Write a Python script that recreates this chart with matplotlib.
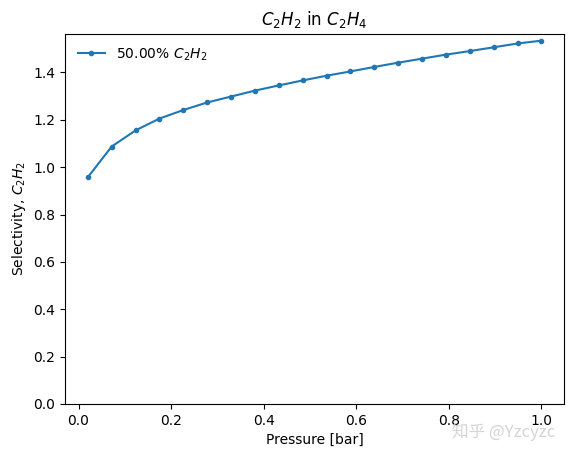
import numpy as np
import matplotlib
matplotlib.use('Agg')
import matplotlib.pyplot as plt

# pressure points [bar] and selectivity
pressure = [0.02, 0.0716, 0.1232, 0.1747, 0.2263, 0.2779, 0.3295, 0.3811,
            0.4326, 0.4842, 0.5358, 0.5874, 0.6389, 0.6905, 0.7421, 0.7937,
            0.8453, 0.8968, 0.9484, 1.0]
selectivity = [0.957, 1.087, 1.155, 1.205, 1.241, 1.273, 1.298, 1.323,
               1.345, 1.366, 1.386, 1.404, 1.423, 1.441, 1.458, 1.475,
               1.490, 1.506, 1.522, 1.534]
label = r'50.00% $C_2H_2$'

fig = plt.figure(figsize=(5.71, 4.57), dpi=100)
ax = fig.add_axes([0.114, 0.116, 0.874, 0.810])

ax.plot(pressure, selectivity, marker='.', label=label)
ax.set_ylim(bottom=0)
ax.set_xlabel('Pressure [bar]')
ax.set_ylabel(r'Selectivity, $C_2H_2$')
ax.set_title(r'$C_2H_2$ in $C_2H_4$')
ax.legend(loc='upper left', frameon=False)

# watermark in the bottom-right corner (overlaps the tick labels as in the source)
fig.text(0.972, 0.055, '知乎 @Yzcyzc', ha='right', va='center', color='#d4d4d4',
         fontsize=12, family=['Noto Sans CJK SC', 'DejaVu Sans'])

fig.savefig('out.png', dpi=100)
